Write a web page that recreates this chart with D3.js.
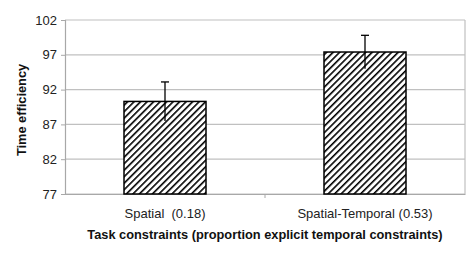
<!DOCTYPE html>
<html>
<head>
<meta charset="utf-8">
<script src="https://cdn.jsdelivr.net/npm/d3@7"></script>
<style>
  body { margin: 0; background: #fff; }
  text { font-family: "Liberation Sans", Arial, sans-serif; }
</style>
</head>
<body>
<div id="chart"></div>
<script>
var categories = ["Spatial  (0.18)", "Spatial-Temporal (0.53)"];
var means = [90.3, 97.4];
var errors = [2.8, 2.4];
var yTicks = [77, 82, 87, 92, 97, 102];

var width = 474, height = 258;
var margin = { top: 20, right: 9, bottom: 64, left: 65 };
var w = width - margin.left - margin.right;
var h = height - margin.top - margin.bottom;

var svg = d3.select("#chart").append("svg")
  .attr("width", width)
  .attr("height", height);

var defs = svg.append("defs");
var pat = defs.append("pattern")
  .attr("id", "hatch")
  .attr("patternUnits", "userSpaceOnUse")
  .attr("width", 4.6)
  .attr("height", 4.6)
  .attr("patternTransform", "rotate(45)");
pat.append("rect").attr("width", 4.6).attr("height", 4.6).attr("fill", "#fff");
pat.append("line")
  .attr("x1", 0).attr("y1", 0).attr("x2", 0).attr("y2", 4.6)
  .attr("stroke", "#000").attr("stroke-width", 3.2);

var x = d3.scaleBand().domain(categories).range([0, w]).paddingInner(0.59).paddingOuter(0.295);
var xb = d3.scaleBand().domain(categories).range([0, w]);
var y = d3.scaleLinear().domain([77, 102]).range([h, 0]);

var g = svg.append("g")
  .attr("transform", "translate(" + margin.left + "," + margin.top + ")");

// gridlines
g.selectAll(".grid")
  .data(yTicks)
  .enter()
  .append("line")
  .attr("x1", 0).attr("x2", w)
  .attr("y1", function(d) { return y(d); })
  .attr("y2", function(d) { return y(d); })
  .attr("stroke", "#c0c0c0")
  .attr("stroke-width", 1.2);

// right border
g.append("line")
  .attr("x1", w).attr("x2", w).attr("y1", 0).attr("y2", h)
  .attr("stroke", "#c0c0c0").attr("stroke-width", 1.2);

// y axis
var yAxis = d3.axisLeft(y).tickValues(yTicks).tickSize(4).tickPadding(4);
var ya = g.append("g").call(yAxis);
ya.select(".domain").attr("stroke", "#a8a8a8").attr("stroke-width", 1.2);
ya.selectAll(".tick line").attr("stroke", "#a8a8a8");
ya.selectAll("text").attr("font-size", 13).attr("fill", "#222")
  .style("font-family", "Liberation Sans, Arial, sans-serif");

// x axis
var xAxis = d3.axisBottom(xb).tickSize(0).tickPadding(15);
var xa = g.append("g").attr("transform", "translate(0," + h + ")").call(xAxis);
xa.select(".domain").attr("stroke", "#a8a8a8").attr("stroke-width", 1.2);
xa.selectAll("text").attr("font-size", 13).attr("fill", "#222")
  .style("white-space", "pre")
  .style("font-family", "Liberation Sans, Arial, sans-serif");
xa.selectAll(".sep")
  .data([xb.bandwidth()])
  .enter()
  .append("line")
  .attr("x1", function(d) { return d; })
  .attr("x2", function(d) { return d; })
  .attr("y1", 0).attr("y2", 4)
  .attr("stroke", "#a8a8a8");

// bars
g.selectAll(".bar")
  .data(means)
  .enter()
  .append("rect")
  .attr("x", function(d, i) { return x(categories[i]); })
  .attr("y", function(d) { return y(d); })
  .attr("width", x.bandwidth())
  .attr("height", function(d) { return h - y(d); })
  .attr("fill", "url(#hatch)")
  .attr("stroke", "#000")
  .attr("stroke-width", 1.5);

// error bars
var eb = g.selectAll(".err")
  .data(means)
  .enter()
  .append("g")
  .attr("transform", function(d, i) {
    return "translate(" + (x(categories[i]) + x.bandwidth() / 2) + ",0)";
  });
eb.append("line")
  .attr("y1", function(d, i) { return y(d - errors[i]); })
  .attr("y2", function(d, i) { return y(d + errors[i]); })
  .attr("stroke", "#000").attr("stroke-width", 1.3);
eb.append("line")
  .attr("x1", -4).attr("x2", 4)
  .attr("y1", function(d, i) { return y(d + errors[i]); })
  .attr("y2", function(d, i) { return y(d + errors[i]); })
  .attr("stroke", "#000").attr("stroke-width", 1.3);

// axis titles
svg.append("text")
  .attr("transform", "translate(26," + (margin.top + h / 2 + 3) + ") rotate(-90)")
  .attr("text-anchor", "middle")
  .attr("font-size", 12.8)
  .attr("font-weight", "bold")
  .attr("fill", "#111")
  .text("Time efficiency");

svg.append("text")
  .attr("x", margin.left + w / 2)
  .attr("y", 239)
  .attr("text-anchor", "middle")
  .attr("font-size", 12.8)
  .attr("font-weight", "bold")
  .attr("fill", "#111")
  .text("Task constraints (proportion explicit temporal constraints)");
</script>
</body>
</html>
